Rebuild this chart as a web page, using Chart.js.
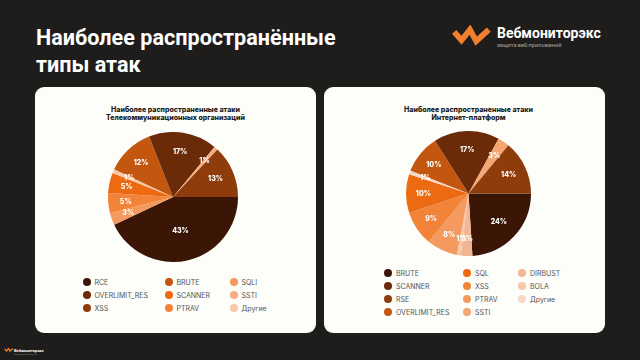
<!DOCTYPE html>
<html lang="ru">
<head>
<meta charset="utf-8">
<script src="https://cdn.jsdelivr.net/npm/chart.js@4/dist/chart.umd.min.js"></script>
<style>
  html, body { margin: 0; padding: 0; }
  body {
    width: 640px; height: 360px; overflow: hidden; position: relative;
    background: #1e1d1b; font-family: "Inter", "Noto Sans", sans-serif;
  }
  .title {
    position: absolute; left: 36px; top: 24px;
    font: 700 21.6px/27px "Roboto", "Liberation Sans", sans-serif; color: #fff;
  }
  .brand { position: absolute; left: 451px; top: 25px; }
  .brand-name {
    position: absolute; left: 497px; top: 25px; color: #fff;
    font: 700 14px/16px "Roboto", "Liberation Sans", sans-serif; white-space: nowrap;
  }
  .brand-sub {
    position: absolute; left: 497px; top: 42px; color: #a9a6a2;
    font: 400 5.6px/7px "Roboto", sans-serif; white-space: nowrap;
  }
  .card {
    position: absolute; top: 87px; height: 246px; background: #fdfdf9; border-radius: 9px;
  }
  .card-title {
    position: absolute; top: 106px; text-align: center;
    font: 800 7px/8.4px "Inter", sans-serif; color: #1a1a1a;
  }
  canvas.pie { position: absolute; }
  .legend {
    position: absolute; display: grid; grid-auto-flow: column;
    font: 400 7px "Inter", sans-serif; color: #555;
  }
  .legend .item { display: flex; align-items: center; height: 13px; white-space: nowrap; }
  .legend .dot { width: 8px; height: 8px; border-radius: 50%; margin-right: 4px; flex: none; }
  .foot { position: absolute; left: 4px; top: 347px; }
  .foot-name {
    position: absolute; left: 14px; top: 347.5px; color: #fff;
    font: 700 4px/5px "Roboto", sans-serif; white-space: nowrap;
  }
  .foot-sub {
    position: absolute; left: 14px; top: 352.5px; color: #888;
    font: 400 2px/3px "Roboto", sans-serif; white-space: nowrap;
  }
</style>
</head>
<body>

<div class="title">Наиболее распространённые<br>типы атак</div>

<svg class="brand" width="42" height="22" viewBox="0 0 40 20">
  <polyline points="3,6 10,14 18,4 24,15 36,4" fill="none" stroke="#f07f2e" stroke-width="5.5" stroke-linejoin="miter"/>
</svg>
<div class="brand-name">Вебмониторэкс</div>
<div class="brand-sub">защита веб-приложений</div>

<div class="card" style="left:35px; width:281px;"></div>
<div class="card" style="left:324px; width:281px;"></div>

<div class="card-title" style="left:35px; width:281px;">Наиболее распространенные атаки<br>Телекоммуникационных организаций</div>
<div class="card-title" style="left:324px; width:289px;">Наиболее распространенные атаки<br>Интернет-платформ</div>

<canvas class="pie" id="chartTelecom" style="left:108px; top:132px;" width="130" height="130"></canvas>
<canvas class="pie" id="chartInternet" style="left:406px; top:131px;" width="125" height="125"></canvas>

<div class="legend" id="legendTelecom" style="left:82.5px; top:275.5px; grid-template-rows:repeat(3,13px); grid-template-columns:82px 65px auto;"></div>
<div class="legend" id="legendInternet" style="left:384px; top:266.5px; grid-template-rows:repeat(4,13px); grid-template-columns:79px 55px auto;"></div>

<svg class="foot" width="10" height="6" viewBox="0 0 40 20">
  <polyline points="3,6 10,14 18,4 24,15 36,4" fill="none" stroke="#f07f2e" stroke-width="5"/>
</svg>
<div class="foot-name">Вебмониторэкс</div>
<div class="foot-sub">защита веб-приложений</div>

<script>
// ---- Телекоммуникационные организации (порядок секторов по часовой стрелке от 3 часов) ----
const telecomLabels = ['RCE', 'SQLI', 'PTRAV', 'SCANNER', 'Другие', 'BRUTE', 'OVERLIMIT_RES', 'SSTI', 'XSS'];
const telecomValues = [43, 3, 5, 5, 1, 12, 17, 1, 13];
const telecomLegend = ['RCE', 'OVERLIMIT_RES', 'XSS', 'BRUTE', 'SCANNER', 'PTRAV', 'SQLI', 'SSTI', 'Другие'];
const telecomColors = {
  'RCE': '#3b1606',
  'OVERLIMIT_RES': '#6b2b08',
  'XSS': '#8e3c0c',
  'BRUTE': '#c4570f',
  'SCANNER': '#ec6a12',
  'PTRAV': '#f2843a',
  'SQLI': '#f49a5e',
  'SSTI': '#f6ad80',
  'Другие': '#f8c8a6'
};

// ---- Интернет-платформы ----
const internetLabels = ['BRUTE', 'DIRBUST', 'BOLA', 'PTRAV', 'XSS', 'SQL', 'Другие', 'OVERLIMIT_RES', 'SCANNER', 'SSTI', 'RSE'];
const internetValues = [24, 3, 1, 8, 9, 10, 1, 10, 17, 3, 14];
const internetLegend = ['BRUTE', 'SCANNER', 'RSE', 'OVERLIMIT_RES', 'SQL', 'XSS', 'PTRAV', 'SSTI', 'DIRBUST', 'BOLA', 'Другие'];
const internetColors = {
  'BRUTE': '#3b1606',
  'SCANNER': '#6b2b08',
  'RSE': '#8e3c0c',
  'OVERLIMIT_RES': '#c4570f',
  'SQL': '#ec6a12',
  'XSS': '#f2843a',
  'PTRAV': '#f49a5e',
  'SSTI': '#f4a674',
  'DIRBUST': '#f4b592',
  'BOLA': '#f6c7aa',
  'Другие': '#f8d8c3'
};

// Percent labels near the centroid of each slice
const pctLabels = {
  id: 'pctLabels',
  afterDatasetsDraw(chart) {
    const ctx = chart.ctx;
    const data = chart.data.datasets[0].data;
    ctx.save();
    ctx.fillStyle = '#ffffff';
    ctx.font = '800 7px Inter, sans-serif';
    ctx.textAlign = 'center';
    ctx.textBaseline = 'middle';
    chart.getDatasetMeta(0).data.forEach((arc, i) => {
      const p = arc.getProps(['x', 'y', 'startAngle', 'endAngle', 'outerRadius']);
      const half = (p.endAngle - p.startAngle) / 2;
      const mid = p.startAngle + half;
      const d = p.outerRadius * (2 * Math.sin(half)) / (3 * half) * 1.1;
      ctx.fillText(data[i] + '%', p.x + Math.cos(mid) * d, p.y + Math.sin(mid) * d);
    });
    ctx.restore();
  }
};

function makePie(id, labels, values, colors) {
  new Chart(document.getElementById(id), {
    type: 'pie',
    data: {
      labels: labels,
      datasets: [{
        data: values,
        backgroundColor: labels.map(l => colors[l]),
        borderWidth: 0
      }]
    },
    options: {
      responsive: false,
      animation: false,
      rotation: 90,
      layout: { padding: 0 },
      plugins: {
        legend: { display: false },
        tooltip: { enabled: false }
      }
    },
    plugins: [pctLabels]
  });
}

function makeLegend(id, order, colors) {
  const box = document.getElementById(id);
  order.forEach(name => {
    const item = document.createElement('div');
    item.className = 'item';
    item.innerHTML = '<span class="dot" style="background:' + colors[name] + '"></span>' + name;
    box.appendChild(item);
  });
}

makePie('chartTelecom', telecomLabels, telecomValues, telecomColors);
makePie('chartInternet', internetLabels, internetValues, internetColors);
makeLegend('legendTelecom', telecomLegend, telecomColors);
makeLegend('legendInternet', internetLegend, internetColors);
</script>
</body>
</html>
